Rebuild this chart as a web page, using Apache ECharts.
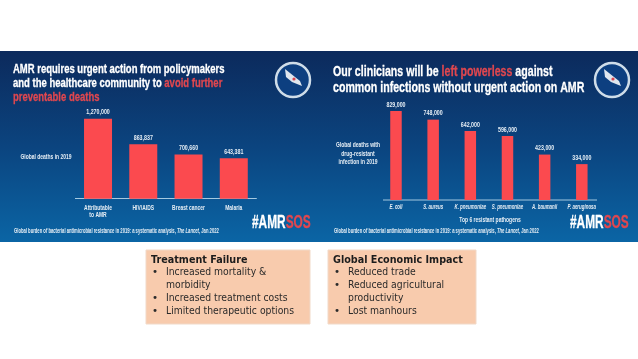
<!DOCTYPE html>
<html>
<head>
<meta charset="utf-8">
<style>
  html, body { margin: 0; padding: 0; background: #fff; }
  #chart { width: 638px; height: 359px; }
</style>
<script src="https://cdn.jsdelivr.net/npm/echarts@6/dist/echarts.min.js"></script>
</head>
<body>
<div id="chart"></div>
<script>
const causeCategories = ['Attributable\nto AMR', 'HIV/AIDS', 'Breast cancer', 'Malaria'];
const causeDeaths = [1270000, 863837, 700660, 643381];
const causeLabels = ['1,270,000', '863,837', '700,660', '643,381'];

const pathogenCategories = ['E. coli', 'S. aureus', 'K. pneumoniae', 'S. pneumoniae', 'A. baumanii', 'P. aeruginosa'];
const pathogenDeaths = [829000, 748000, 642000, 596000, 423000, 334000];
const pathogenLabels = ['829,000', '748,000', '642,000', '596,000', '423,000', '334,000'];

const treatmentTitle = 'Treatment Failure';
const treatmentLines = [['•', 'Increased mortality &'], ['', 'morbidity'], ['•', 'Increased treatment costs'], ['•', 'Limited therapeutic options']];
const economicTitle = 'Global Economic Impact';
const economicLines = [['•', 'Reduced trade'], ['•', 'Reduced agricultural'], ['', 'productivity'], ['•', 'Lost manhours']];

const source = 'Global burden of bacterial antimicrobial resistance in 2019: a systematic analysis, ';

// no condensed face is installed, so the slide's narrow type is Liberation squeezed with scaleX
const headFont = '"Liberation Sans", sans-serif';
const bodyFont = '"DejaVu Sans", sans-serif';
const barColor = '#fb4a4f';
const lineColor = '#a5c9e0';
const red = '#e0474f';
const pale = '#e6eef5';

const chart = echarts.init(document.getElementById('chart'));

const panel = (x, width) => ({
  type: 'rect',
  z: -10,
  shape: { x, y: 51, width, height: 191 },
  style: {
    fill: new echarts.graphic.LinearGradient(0, 0, 0, 1, [
      { offset: 0, color: '#0c2a5c' },
      { offset: 0.5, color: '#0b447f' },
      { offset: 1, color: '#0b65a5' }
    ])
  }
});

const logo = (cx, cy) => [
  { type: 'circle', z: 1, shape: { cx, cy, r: 17 }, style: { fill: '#0d3f80', stroke: '#cfdde9', lineWidth: 2.5 } },
  { type: 'polygon', z: 2, shape: { points: [[cx - 8, cy - 11], [cx + 7, cy + 1], [cx + 9, cy + 6], [cx - 1, cy + 2], [cx - 7, cy - 3]] }, style: { fill: '#dfe6ee' } },
  { type: 'circle', z: 3, shape: { cx: cx + 1, cy: cy - 1, r: 1.6 }, style: { fill: '#d8444e' } }
];

const richText = (x, y, text, size, lineHeight, scaleX) => ({
  type: 'text',
  z: 2,
  x,
  y,
  scaleX,
  style: {
    text,
    rich: {
      w: { fill: '#fff', stroke: '#fff', lineWidth: 0.3, font: 'bold ' + size + 'px ' + headFont, lineHeight },
      r: { fill: red, stroke: red, lineWidth: 0.3, font: 'bold ' + size + 'px ' + headFont, lineHeight },
      a: { fill: pale, font: 'bold ' + size + 'px ' + headFont, lineHeight },
      b: { fill: pale, font: 'italic bold ' + size + 'px ' + headFont, lineHeight }
    }
  }
});

const label = (x, y, text) => ({
  type: 'text',
  z: 2,
  x,
  y,
  scaleX: 0.62,
  style: { text, fill: pale, font: 'bold 8px ' + headFont, align: 'center', verticalAlign: 'middle', lineHeight: 8.5 }
});

const box = (x, width, title, lines) => {
  const items = [
    { type: 'rect', z: 1, shape: { x, y: 250, width, height: 74 }, style: { fill: '#f8cbad', stroke: '#f1d9c8', lineWidth: 1 } },
    { type: 'text', z: 2, x: x + 5, y: 260, scaleX: 0.9, style: { text: title, fill: '#1c1c1c', font: 'bold 10.7px ' + bodyFont, verticalAlign: 'middle' } }
  ];
  lines.forEach(([bullet, text], i) => {
    const y = 272.8 + i * 12.7;
    if (bullet) {
      items.push({ type: 'text', z: 2, x: x + 6, y, style: { text: bullet, fill: '#2a2a2a', font: '10.3px ' + bodyFont, verticalAlign: 'middle' } });
    }
    items.push({ type: 'text', z: 2, x: x + 20, y, scaleX: 0.9, style: { text, fill: '#2a2a2a', font: '10.3px ' + bodyFont, verticalAlign: 'middle' } });
  });
  return items;
};

// value above each bar and category name under the axis, squeezed to the slide's narrow look
const barText = (categories, labels, catFont, catGap, catScale) => (params, api) => {
  const i = api.value(0);
  const top = api.coord([i, api.value(1)]);
  const foot = api.coord([i, 0]);
  return {
    type: 'group',
    children: [
      {
        type: 'text',
        x: top[0],
        y: top[1] - 6.5,
        scaleX: 0.66,
        style: { text: labels[i], fill: pale, font: 'bold 8px ' + headFont, align: 'center', verticalAlign: 'middle' }
      },
      {
        type: 'text',
        x: foot[0],
        y: foot[1] + catGap,
        scaleX: catScale,
        style: { text: categories[i], fill: pale, font: catFont, align: 'center', verticalAlign: 'top', lineHeight: 7.5 }
      }
    ]
  };
};

chart.setOption({
  animation: false,
  backgroundColor: '#fff',
  grid: [
    { left: 75.4, top: 100, width: 181, height: 98.7 },
    { left: 377.4, top: 100, width: 223, height: 100 }
  ],
  xAxis: [
    {
      type: 'category',
      gridIndex: 0,
      data: causeCategories,
      axisTick: { show: false },
      axisLine: { lineStyle: { color: lineColor, width: 1 } },
      axisLabel: { show: false }
    },
    {
      type: 'category',
      gridIndex: 1,
      data: pathogenCategories,
      axisTick: { show: false },
      axisLine: { show: false },
      axisLabel: { show: false }
    }
  ],
  yAxis: [
    { type: 'value', gridIndex: 0, min: 0, max: 1566000, show: false },
    { type: 'value', gridIndex: 1, min: 0, max: 931000, show: false }
  ],
  series: [
    {
      type: 'bar',
      xAxisIndex: 0,
      yAxisIndex: 0,
      data: causeDeaths,
      barWidth: 28,
      itemStyle: { color: barColor }
    },
    {
      type: 'bar',
      xAxisIndex: 1,
      yAxisIndex: 1,
      data: pathogenDeaths,
      barWidth: 11.5,
      itemStyle: { color: barColor }
    },
    {
      type: 'custom',
      xAxisIndex: 0,
      yAxisIndex: 0,
      silent: true,
      data: causeDeaths.map((v, i) => [i, v]),
      renderItem: barText(causeCategories, causeLabels, 'bold 8px ' + headFont, 5, 0.62)
    },
    {
      type: 'custom',
      xAxisIndex: 1,
      yAxisIndex: 1,
      silent: true,
      data: pathogenDeaths.map((v, i) => [i, v]),
      renderItem: barText(pathogenCategories, pathogenLabels, 'italic bold 6.5px ' + headFont, 3, 0.68)
    }
  ],
  graphic: {
    elements: [
      panel(0, 320),
      panel(320, 318),
      ...logo(293, 80),
      ...logo(612, 80),
      { type: 'line', z: 1, shape: { x1: 383, y1: 200, x2: 597, y2: 200 }, style: { stroke: lineColor, lineWidth: 1 } },
      richText(13, 62, '{w|AMR requires urgent action from policymakers}\n{w|and the healthcare community to }{r|avoid further}\n{r|preventable deaths}', 13, 14, 0.73),
      richText(333, 64, '{w|Our clinicians will be }{r|left powerless}{w| against}\n{w|common infections without urgent action on AMR}', 15, 16, 0.708),
      richText(252, 214, '{w|#AMR}{r|SOS}', 18, 18, 0.66),
      richText(570, 214, '{w|#AMR}{r|SOS}', 18, 18, 0.66),
      richText(14, 228, '{a|' + source + '}{b|The Lancet}{a|, Jan 2022}', 6.5, 7, 0.64),
      richText(334, 228, '{a|' + source + '}{b|The Lancet}{a|, Jan 2022}', 6.5, 7, 0.64),
      label(46, 157, 'Global deaths in 2019'),
      label(358, 153.5, 'Global deaths with\ndrug-resistant\ninfection in 2019'),
      label(490, 220, 'Top 6 resistant pathogens'),
      ...box(146, 164, treatmentTitle, treatmentLines),
      ...box(328, 148, economicTitle, economicLines)
    ]
  }
});
</script>
</body>
</html>
